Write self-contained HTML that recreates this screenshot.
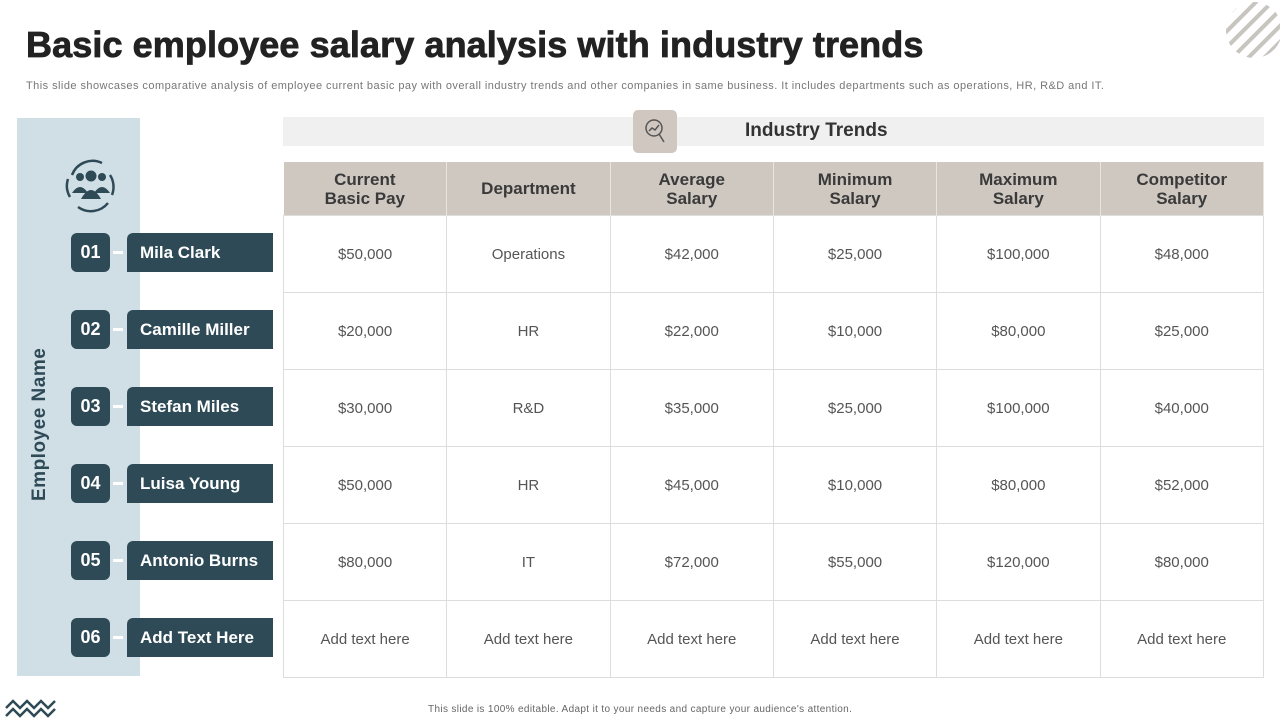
<!DOCTYPE html>
<html><head><meta charset="utf-8"><style>
body{margin:0;width:1280px;height:720px;position:relative;background:#fff;font-family:"Liberation Sans",Arial,sans-serif;overflow:hidden}
.abs{position:absolute}
h1{position:absolute;left:26px;top:24px;margin:0;font-size:36px;font-weight:900;color:#222;letter-spacing:0.1px;-webkit-text-stroke:0.8px #222;white-space:nowrap}
.sub{left:26px;top:80px;font-size:11px;color:#777;letter-spacing:0.45px;white-space:nowrap}
.panel{left:17px;top:118px;width:123px;height:558px;background:#d0dfe5}
.num{width:39px;height:39px;background:#2e4a56;border-radius:6px;color:#fff;font-weight:bold;font-size:18px;text-align:center;line-height:39px;left:71px}
.dash{left:113px;width:10px;height:3px;background:#fff}
.name{left:127px;width:146px;height:39px;background:#2e4a56;border-radius:6px 0 0 0;color:#fff;font-weight:bold;font-size:17px;line-height:39px;padding-left:13px;box-sizing:border-box;white-space:nowrap}
table{position:absolute;left:283px;top:162px;border-collapse:collapse;width:981px}
th{background:#cfc8c1;height:53px;color:#3a3a3a;font-size:17px;line-height:19px;border-right:1px solid #e8e4e0;padding:0}
td{height:76px;border:1px solid #ddd;text-align:center;color:#555;font-size:15px;padding:0;width:163px}
</style></head><body>
<h1>Basic employee salary analysis with industry trends</h1>
<div class="abs sub">This slide showcases comparative analysis of employee current basic pay with overall industry trends and other companies in same business. It includes departments such as operations, HR, R&amp;D and IT.</div>
<svg class="abs" style="left:1224px;top:0" width="56" height="62">
<defs><clipPath id="c"><circle cx="30" cy="30" r="28"/></clipPath></defs>
<g clip-path="url(#c)" stroke="#c8c4c0" stroke-width="4">
<line x1="-10" y1="60" x2="50" y2="0"/><line x1="-2" y1="68" x2="58" y2="8"/><line x1="6" y1="76" x2="66" y2="16"/><line x1="14" y1="84" x2="74" y2="24"/><line x1="-18" y1="52" x2="42" y2="-8"/><line x1="-26" y1="44" x2="34" y2="-16"/><line x1="22" y1="92" x2="82" y2="32"/></g></svg>
<div class="abs panel"></div>
<svg class="abs" style="left:62px;top:157px" width="58" height="56">
<g fill="none" stroke="#2e4a56" stroke-width="2.5"><path d="M10 18 A22 22 0 0 1 40 6"/><path d="M48 18 A22 22 0 0 1 50 38"/><path d="M46 46 A22 22 0 0 1 16 50"/><path d="M8 40 A22 22 0 0 1 6 22"/></g>
<g fill="#2e4a56"><circle cx="18" cy="20" r="4"/><circle cx="40" cy="20" r="4"/><circle cx="29" cy="19" r="5.5"/><path d="M10 36 q8-12 16 0z"/><path d="M32 36 q8-12 16 0z"/><path d="M19 42 q10-18 20 0z"/></g></svg>
<div class="abs" style="top:420px;transform:rotate(-90deg);transform-origin:center;font-weight:bold;font-size:19px;color:#2e4a56;white-space:nowrap;text-align:center;left:-30px;width:140px;letter-spacing:0.5px">Employee Name</div>
<div id="rows"></div>
<div class="abs" style="left:283px;top:117px;width:981px;height:29px;background:#f0f0f0"></div>
<div class="abs" style="left:633px;top:110px;width:44px;height:43px;background:#d0c8c0;border-radius:5px">
<svg width="44" height="43"><g fill="none" stroke="#555" stroke-width="1.5"><circle cx="21" cy="18" r="8"/><line x1="26" y1="24" x2="31" y2="32"/><path d="M16 21 l3-3 3 2 4-5"/></g></svg></div>
<div class="abs" style="left:745px;top:120px;font-size:19px;font-weight:bold;color:#333">Industry Trends</div>
<table><thead><tr>
<th>Current<br>Basic Pay</th><th>Department</th><th>Average<br>Salary</th><th>Minimum<br>Salary</th><th>Maximum<br>Salary</th><th>Competitor<br>Salary</th></tr></thead><tbody id="tb"></tbody></table>
<svg class="abs" style="left:4px;top:698px" width="56" height="20"><g fill="none" stroke="#2e4a56" stroke-width="2.5"><path d="M2 10 l7-7 7 7 7-7 7 7 7-7 7 7 7-7"/><path d="M2 18 l7-7 7 7 7-7 7 7 7-7 7 7 7-7"/></g></svg>
<div class="abs" style="left:428px;top:704px;font-size:10px;color:#666;letter-spacing:0.35px;white-space:nowrap">This slide is 100% editable. Adapt it to your needs and capture your audience's attention.</div>
<script>
const names=["Mila Clark","Camille Miller","Stefan Miles","Luisa Young","Antonio Burns","Add Text Here"];
const data=[["$50,000","Operations","$42,000","$25,000","$100,000","$48,000"],["$20,000","HR","$22,000","$10,000","$80,000","$25,000"],["$30,000","R&D","$35,000","$25,000","$100,000","$40,000"],["$50,000","HR","$45,000","$10,000","$80,000","$52,000"],["$80,000","IT","$72,000","$55,000","$120,000","$80,000"],["Add text here","Add text here","Add text here","Add text here","Add text here","Add text here"]];
const R=document.getElementById('rows');
names.forEach((n,i)=>{const y=233+i*77;
const a=document.createElement('div');a.className='abs num';a.style.top=y+'px';a.textContent=String(i+1).padStart(2,'0');


const d=document.createElement('div');d.className='abs dash';d.style.top=(y+18)+'px';


const b=document.createElement('div');b.className='abs name';b.style.top=y+'px';b.textContent=n;


R.append(a,d,b);});
const tb=document.getElementById('tb');
data.forEach(r=>{const tr=document.createElement('tr');


r.forEach(v=>{const td=document.createElement('td');td.textContent=v;


tr.appendChild(td);});tb.appendChild(tr);});
</script>
</body></html>
